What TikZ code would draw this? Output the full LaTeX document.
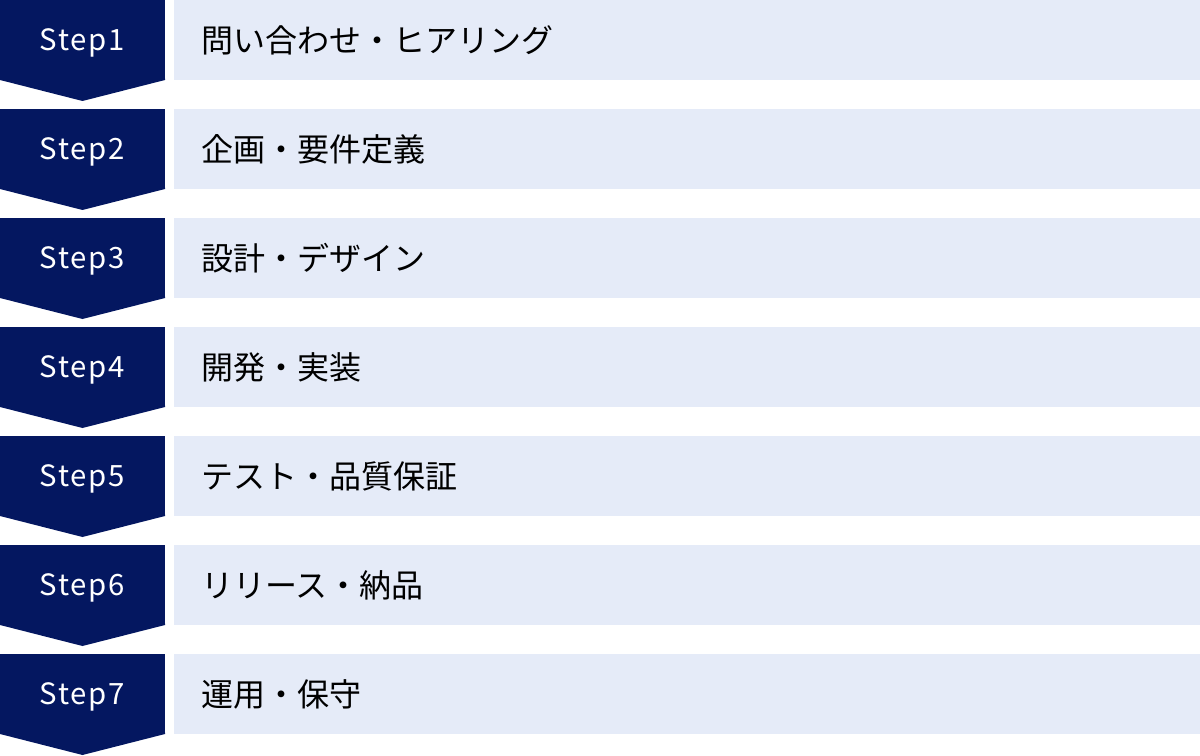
\documentclass[tikz,border=0pt]{standalone}
\usepackage{fontspec}
\setmainfont{Noto Sans CJK JP}
\newfontfamily\stepfont{Noto Sans CJK JP}[LetterSpace=6]
\usepackage{tikz}
\usetikzlibrary{positioning}

\definecolor{stepnavy}{RGB}{4,23,96}
\definecolor{rowblue}{RGB}{229,235,248}

\begin{document}
\begin{tikzpicture}[node distance=21.75pt]

	  				\tikzstyle{stepbox}=[rectangle,fill=stepnavy,text=white,minimum width=123.75pt,minimum height=60pt,inner sep=0pt,outer sep=0pt,text depth=0pt,font=\stepfont\fontsize{22pt}{26pt}\selectfont]
  					\tikzstyle{task}=[rectangle,fill=rowblue,text=black,minimum width=769.5pt,minimum height=60pt,inner xsep=20.25pt,inner ysep=0pt,outer sep=0pt,text width=729pt,align=left,font=\fontsize{24pt}{28pt}\selectfont]

				\useasboundingbox (0,0) rectangle (900pt,-567pt);

    				\node [stepbox,anchor=north west] (s1) at (0,0) {Step1};
    				\node [stepbox] (s2) [below=of s1] {Step2};
		    		\node [stepbox] (s3) [below=of s2] {Step3};
    				\node [stepbox] (s4) [below=of s3] {Step4};
    				\node [stepbox] (s5) [below=of s4] {Step5};
		    		\node [stepbox] (s6) [below=of s5] {Step6};
    				\node [stepbox] (s7) [below=of s6] {Step7};

    				\node [task] (t1) [right=6.75pt of s1] {問い合わせ・ヒアリング};
    				\node [task] (t2) [right=6.75pt of s2] {企画・要件定義};
		    		\node [task] (t3) [right=6.75pt of s3] {設計・デザイン};
    				\node [task] (t4) [right=6.75pt of s4] {開発・実装};
    				\node [task] (t5) [right=6.75pt of s5] {テスト・品質保証};
		    		\node [task] (t6) [right=6.75pt of s6] {リリース・納品};
    				\node [task] (t7) [right=6.75pt of s7] {運用・保守};

				% chevron tips under each step
				\foreach \s in {s1,s2,s3,s4,s5,s6,s7}
					\fill [stepnavy] ([yshift=1pt]\s.south west) -- (\s.south west) -- ([yshift=-15.75pt]\s.south) -- (\s.south east) -- ([yshift=1pt]\s.south east) -- cycle;
				\end{tikzpicture}
\end{document}
